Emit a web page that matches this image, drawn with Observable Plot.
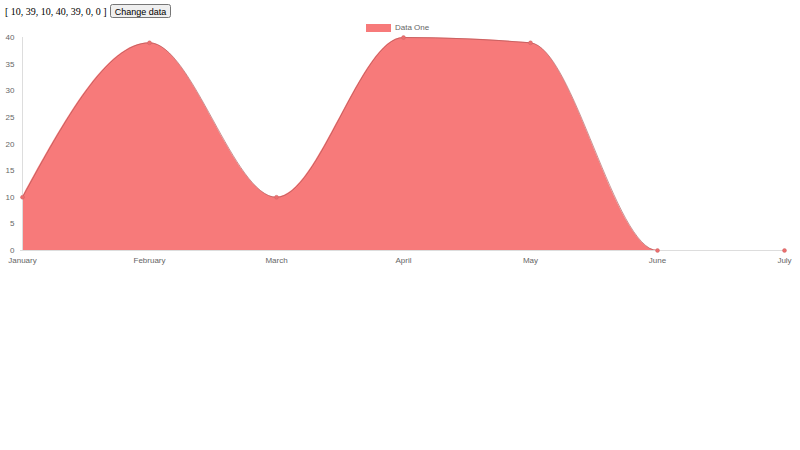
<!DOCTYPE html>
<html>
<head>
<meta charset="utf-8">
<script src="https://cdn.jsdelivr.net/npm/d3@7"></script>
<script src="https://cdn.jsdelivr.net/npm/@observablehq/plot@0.6"></script>
<style>
  body { margin: 0; width: 800px; height: 450px; position: relative; background: #fff; overflow: hidden; }
  #top { position: absolute; left: 5px; top: 4px; font-family: "Liberation Serif", "Times New Roman", serif; font-size: 10px; color: #000; display: flex; align-items: center; }
  #top button { font-family: "Liberation Sans", Arial, sans-serif; font-size: 9px; padding: 1px 3px; margin-left: 3px; height: 14px; line-height: 10px; }
  #legend { position: absolute; left: 366px; top: 23px; font-family: "Liberation Sans", Arial, sans-serif; font-size: 8px; color: #666; display: flex; align-items: center; }
  #legend span.sw { display: inline-block; width: 25px; height: 8px; background: rgb(247,122,122); margin-right: 4px; }
  #chart { position: absolute; left: 0; top: 30px; }
</style>
</head>
<body>
<div id="top"></div>
<div id="legend"><span class="sw"></span><span>Data One</span></div>
<div id="chart"></div>
<script>
const months = ["January", "February", "March", "April", "May", "June", "July"];
const values = [10, 39, 10, 40, 39, 0, 0];
const seriesName = "Data One";
const yTicks = [0, 5, 10, 15, 20, 25, 30, 35, 40];

document.getElementById("top").innerHTML =
  "<span>[ " + values.join(", ") + " ]</span><button>Change data</button>";

const data = months.map((m, i) => ({month: m, value: values[i]}));
const fillColor = "rgb(247,122,122)";

const chart = Plot.plot({
  width: 800,
  height: 245,
  marginTop: 7,
  marginBottom: 25,
  marginLeft: 20,
  marginRight: 14,
  style: {fontFamily: "Liberation Sans, Arial, sans-serif", fontSize: "8px", color: "#666", background: "transparent"},
  x: {type: "point", domain: months, label: null, padding: 0},
  y: {domain: [0, 40], label: null},
  marks: [
    Plot.areaY(data, {x: "month", y: "value", fill: fillColor, curve: "monotone-x"}),
    Plot.lineY(data, {x: "month", y: "value", stroke: "rgba(170,80,80,0.6)", strokeWidth: 1, curve: "monotone-x"}),
    Plot.ruleY([0], {stroke: "#ddd"}),
    Plot.ruleX([months[0]], {y1: 0, y2: 40, stroke: "#ddd"}),
    Plot.dot(data, {x: "month", y: "value", r: 2, fill: "rgb(235,110,110)", stroke: "rgba(200,100,100,0.8)", strokeWidth: 0.5}),
    Plot.axisY({ticks: yTicks, tickSize: 0, tickPadding: 6, fill: "#666"}),
    Plot.axisX({tickSize: 0, tickPadding: 7, fill: "#666"})
  ]
});
document.getElementById("chart").appendChild(chart);
</script>
</body>
</html>
